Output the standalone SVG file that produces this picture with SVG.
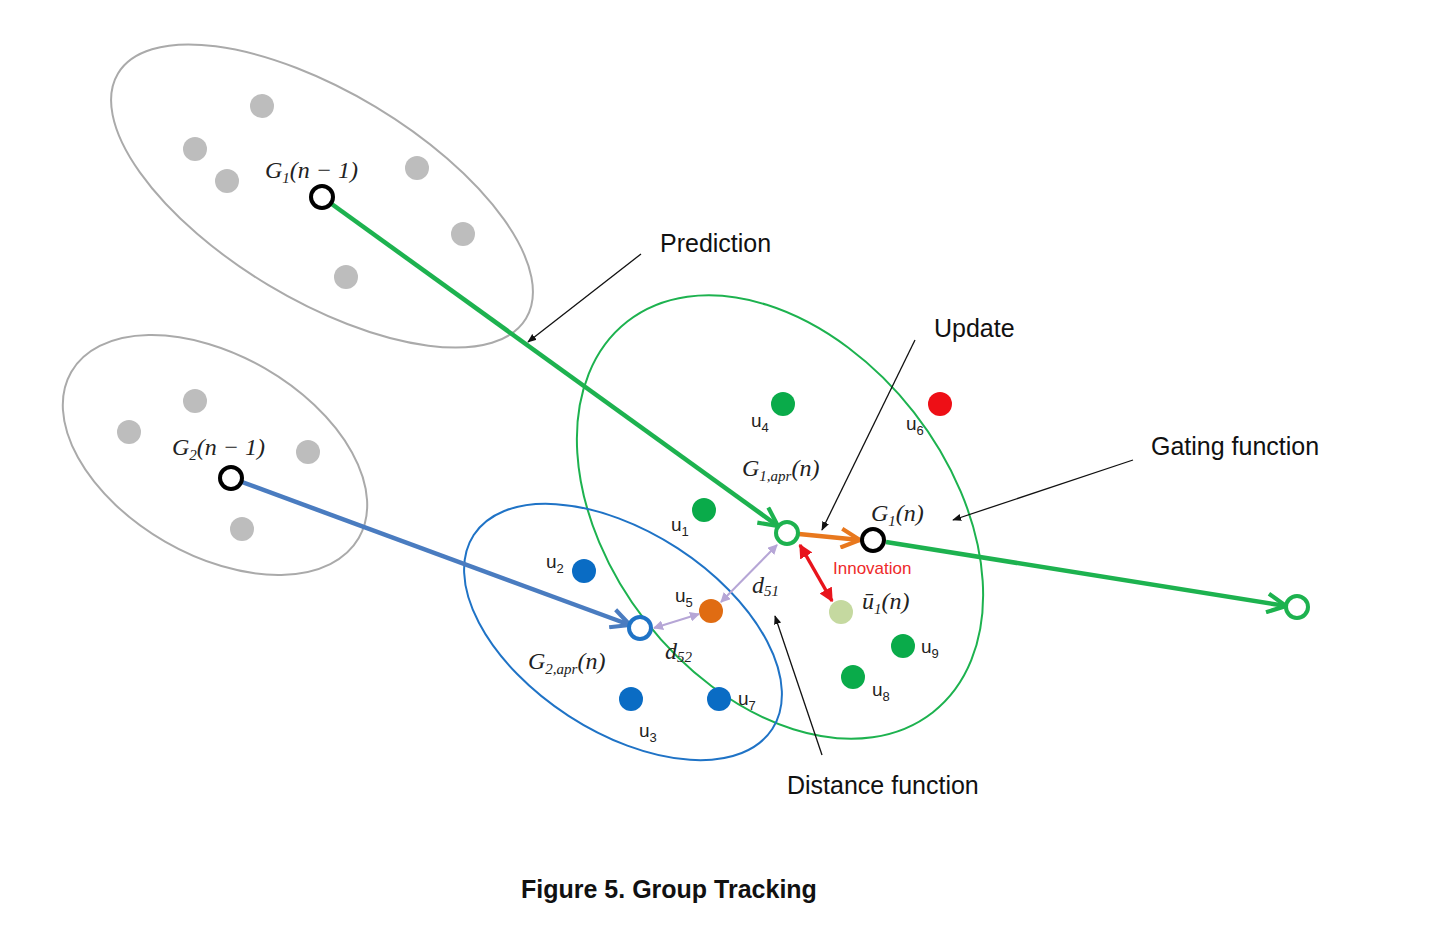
<svg xmlns="http://www.w3.org/2000/svg" width="1448" height="933" viewBox="0 0 1448 933">
<style>
.m{font-family:"Liberation Serif",serif;font-style:italic;font-size:24px;fill:#222}
.s{font-family:"Liberation Serif",serif;font-style:italic;font-size:15px}
.u{font-family:"Liberation Sans",sans-serif;font-size:19px;fill:#222}
.l{font-family:"Liberation Sans",sans-serif;font-size:25px;fill:#111}
.g{fill:#bdbdbd}.gr{fill:#0aab4a}.b{fill:#0a6cc4}
.ring{fill:#fff;stroke-width:4}
</style>
<defs>
<marker id="cg" viewBox="0 0 12 12" refX="11" refY="6" markerWidth="5" markerHeight="5" orient="auto"><path d="M1,1 L11,6 L1,11" fill="none" stroke="#1db24f" stroke-width="2.2"/></marker>
<marker id="cb" viewBox="0 0 12 12" refX="11" refY="6" markerWidth="5" markerHeight="5" orient="auto"><path d="M1,1 L11,6 L1,11" fill="none" stroke="#4a7cc0" stroke-width="2.2"/></marker>
<marker id="co" viewBox="0 0 12 12" refX="11" refY="6" markerWidth="5" markerHeight="5" orient="auto"><path d="M1,1 L11,6 L1,11" fill="none" stroke="#e8781e" stroke-width="2.2"/></marker>
<marker id="ar" viewBox="0 0 10 10" refX="9" refY="5" markerWidth="4" markerHeight="4" orient="auto-start-reverse"><path d="M0,0 L10,5 L0,10z" fill="#e8141c"/></marker>
<marker id="al" viewBox="0 0 10 10" refX="9" refY="5" markerWidth="5" markerHeight="5" orient="auto-start-reverse"><path d="M0,0 L10,5 L0,10z" fill="#b6a6d6"/></marker>
<marker id="ak" viewBox="0 0 10 10" refX="9" refY="5" markerWidth="7" markerHeight="7" orient="auto"><path d="M0,1 L10,5 L0,9z" fill="#111"/></marker>
</defs>
<rect width="1448" height="933" fill="#fff"/>
<g id="ellipses" fill="none" stroke-width="2">
<ellipse cx="322" cy="196" rx="238" ry="104" transform="rotate(31 322 196)" stroke="#aaa"/>
<ellipse cx="215" cy="455" rx="166" ry="100" transform="rotate(30 215 455)" stroke="#aaa"/>
<ellipse cx="780" cy="517" rx="248" ry="170" transform="rotate(52 780 517)" stroke="#1db24f"/>
<ellipse cx="623" cy="632" rx="178" ry="100" transform="rotate(33 623 632)" stroke="#1f73c6"/>
</g>
<g id="dots">
<circle class="g" cx="262" cy="106" r="12"/><circle class="g" cx="195" cy="149" r="12"/><circle class="g" cx="227" cy="181" r="12"/><circle class="g" cx="417" cy="168" r="12"/><circle class="g" cx="463" cy="234" r="12"/><circle class="g" cx="346" cy="277" r="12"/>
<circle class="g" cx="195" cy="401" r="12"/><circle class="g" cx="129" cy="432" r="12"/><circle class="g" cx="308" cy="452" r="12"/><circle class="g" cx="242" cy="529" r="12"/>
<circle class="gr" cx="783" cy="404" r="12"/><circle fill="#ee0f16" cx="940" cy="404" r="12"/><circle class="gr" cx="704" cy="510" r="12"/><circle class="gr" cx="903" cy="646" r="12"/><circle class="gr" cx="853" cy="677" r="12"/><circle fill="#c5d9a0" cx="841" cy="612" r="12"/>
<circle class="b" cx="584" cy="571" r="12"/><circle class="b" cx="631" cy="699" r="12"/><circle class="b" cx="719" cy="699" r="12"/><circle fill="#e06c12" cx="711" cy="611" r="12"/>
</g>
<g id="connectors" fill="none">
<line x1="322" y1="197" x2="778" y2="526" stroke="#1db24f" stroke-width="4.5" marker-end="url(#cg)"/>
<line x1="231" y1="478" x2="630" y2="625" stroke="#4a7cc0" stroke-width="4.5" marker-end="url(#cb)"/>
<line x1="799" y1="534" x2="860" y2="540" stroke="#e8781e" stroke-width="4.5" marker-end="url(#co)"/>
<line x1="886" y1="542" x2="1286" y2="606" stroke="#1db24f" stroke-width="4.5" marker-end="url(#cg)"/>
<line x1="800" y1="545" x2="832" y2="601" stroke="#e8141c" stroke-width="3.5" marker-start="url(#ar)" marker-end="url(#ar)"/>
<line x1="777" y1="545" x2="721" y2="602" stroke="#b6a6d6" stroke-width="2" marker-start="url(#al)" marker-end="url(#al)"/>
<line x1="699" y1="614" x2="654" y2="628" stroke="#b6a6d6" stroke-width="2" marker-start="url(#al)" marker-end="url(#al)"/>
<g stroke="#111" stroke-width="1.3">
<line x1="641" y1="254" x2="528" y2="342" marker-end="url(#ak)"/>
<line x1="915" y1="340" x2="822" y2="530" marker-end="url(#ak)"/>
<line x1="1133" y1="460" x2="953" y2="520" marker-end="url(#ak)"/>
<line x1="822" y1="755" x2="775" y2="616" marker-end="url(#ak)"/>
</g>
</g>
<g id="rings">
<circle class="ring" cx="322" cy="197" r="11" stroke="#000"/>
<circle class="ring" cx="231" cy="478" r="11" stroke="#000"/>
<circle class="ring" cx="787" cy="533" r="11" stroke="#1db24f"/>
<circle class="ring" cx="873" cy="540" r="11" stroke="#000"/>
<circle class="ring" cx="1297" cy="607" r="11" stroke="#1db24f"/>
<circle class="ring" cx="640" cy="628" r="11" stroke="#1f73c6"/>
</g>
<g id="labels">
<text class="m" x="265" y="178">G<tspan class="s" dy="5">1</tspan><tspan dy="-5">(n − 1)</tspan></text>
<text class="m" x="172" y="455">G<tspan class="s" dy="5">2</tspan><tspan dy="-5">(n − 1)</tspan></text>
<text class="m" x="742" y="476">G<tspan class="s" dy="5">1,apr</tspan><tspan dy="-5">(n)</tspan></text>
<text class="m" x="871" y="521">G<tspan class="s" dy="5">1</tspan><tspan dy="-5">(n)</tspan></text>
<text class="m" x="528" y="669">G<tspan class="s" dy="5">2,apr</tspan><tspan dy="-5">(n)</tspan></text>
<text class="m" x="862" y="609">ū<tspan class="s" dy="5">1</tspan><tspan dy="-5">(n)</tspan></text>
<text class="m" x="752" y="593">d<tspan class="s" dy="3" font-style="normal">51</tspan></text>
<text class="m" x="665" y="659">d<tspan class="s" dy="3" font-style="normal">52</tspan></text>
<text font-family="Liberation Sans,sans-serif" font-size="17" fill="#ee2a2a" x="833" y="574">Innovation</text>
<text class="u" x="751" y="427">u<tspan font-size="13" dy="5">4</tspan></text>
<text class="u" x="906" y="430">u<tspan font-size="13" dy="5">6</tspan></text>
<text class="u" x="671" y="531">u<tspan font-size="13" dy="5">1</tspan></text>
<text class="u" x="546" y="568">u<tspan font-size="13" dy="5">2</tspan></text>
<text class="u" x="675" y="602">u<tspan font-size="13" dy="5">5</tspan></text>
<text class="u" x="921" y="653">u<tspan font-size="13" dy="5">9</tspan></text>
<text class="u" x="872" y="696">u<tspan font-size="13" dy="5">8</tspan></text>
<text class="u" x="738" y="705">u<tspan font-size="13" dy="5">7</tspan></text>
<text class="u" x="639" y="737">u<tspan font-size="13" dy="5">3</tspan></text>
<text class="l" x="660" y="252">Prediction</text>
<text class="l" x="934" y="337">Update</text>
<text class="l" x="1151" y="455">Gating function</text>
<text class="l" x="787" y="794">Distance function</text>
<text class="l" x="521" y="898" font-weight="bold">Figure 5. Group Tracking</text>
</g>
</svg>
